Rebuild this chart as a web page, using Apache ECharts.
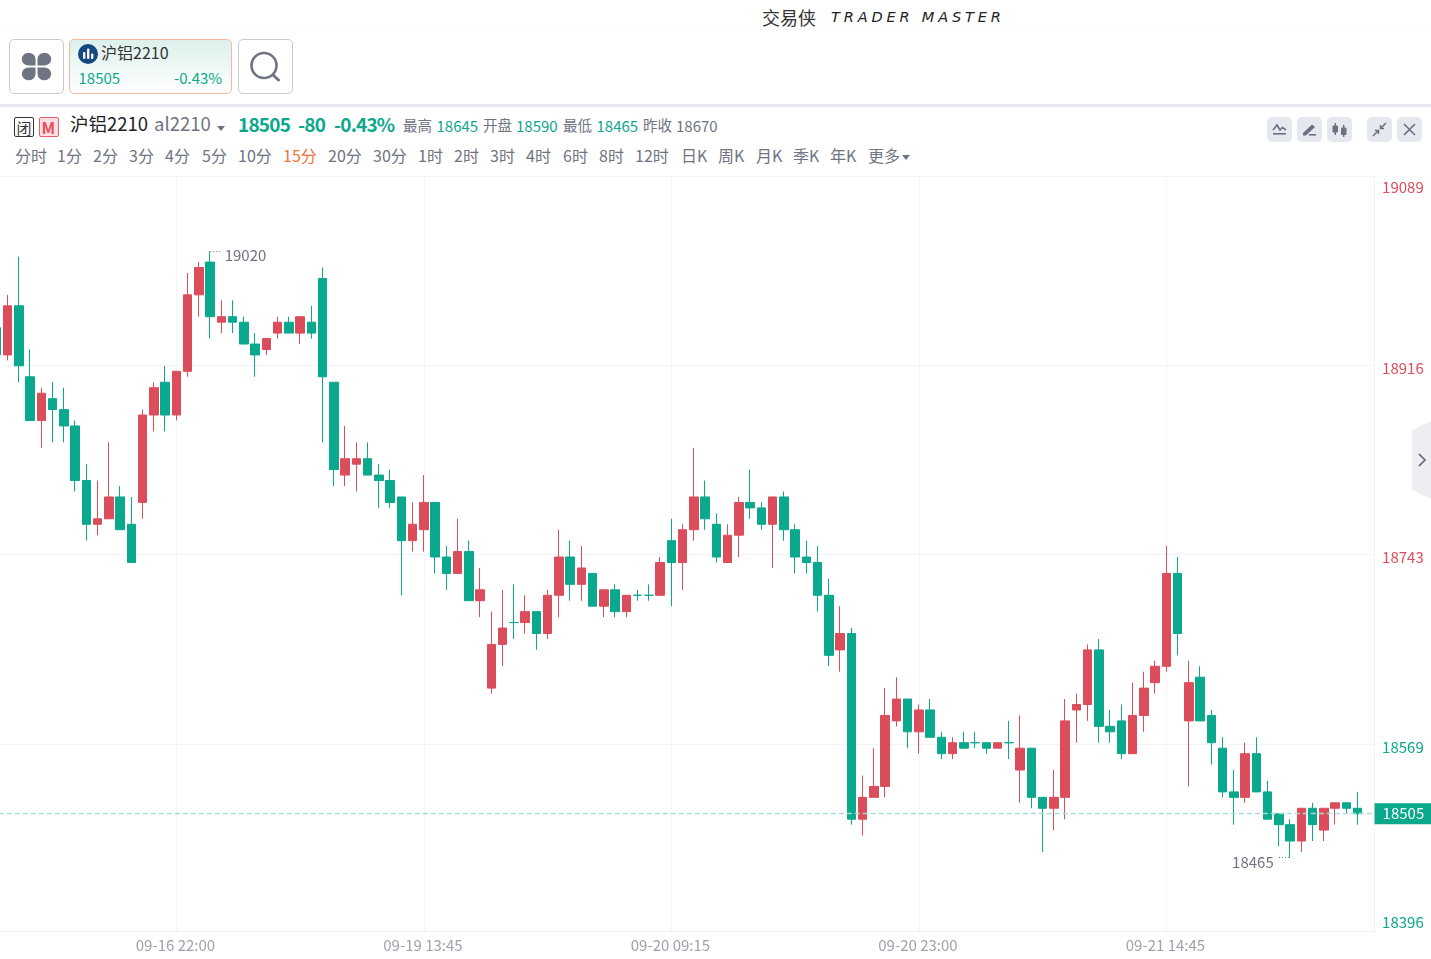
<!DOCTYPE html>
<html>
<head>
<meta charset="utf-8">
<title>沪铝2210</title>
<script src="https://cdn.jsdelivr.net/npm/echarts@6/dist/echarts.min.js"></script>
<style>
html, body { margin: 0; padding: 0; background: #fff; overflow: hidden; }
body { width: 1431px; height: 959px; position: relative; font-family: "Noto Sans CJK SC", sans-serif; }
.t { position: absolute; white-space: nowrap; line-height: 1; transform: translateY(-50%); }
.box { position: absolute; box-sizing: border-box; }
.btn { top: 39px; width: 55px; height: 55px; border: 1px solid #c9cad3; border-radius: 5px; }
.tool { top: 117px; width: 25px; height: 25px; background: #e6e8ef; border-radius: 5px; }
.tool svg { display: block; }
/* starts left of the page so the half candle on the edge gets cut off */
#kline { position: absolute; left: -20px; top: 170px; width: 1451px; height: 789px; }
</style>
</head>
<body>
<div class="box" style="left:0;top:29px;width:1431px;height:1px;background:#f8f8fa"></div>
<div class="box" style="left:0;top:104px;width:1431px;height:3px;background:#e6e8ef"></div>

<div class="box btn" style="left:9px">
	<svg width="53" height="53" viewBox="0 0 54 54"><g fill="#6f7482">
		<path d="M26 26 H19 A7 6.5 0 1 1 26 19 Z"/><path d="M28 26 H35 A7 6.5 0 1 0 28 19 Z"/>
		<path d="M26 28 H19 A7 6.5 0 1 0 26 35 Z"/><path d="M28 28 H35 A7 6.5 0 1 1 28 35 Z"/>
	</g></svg>
</div>
<div class="box" style="left:69px;top:39px;width:163px;height:55px;border:1px solid #f5b8a0;border-radius:5px;background:linear-gradient(#dcf1ec,#fff)">
	<svg width="22" height="22" viewBox="0 0 22 22" style="position:absolute;left:7px;top:3px"><circle cx="11" cy="11" r="10" fill="#14487f"/><g fill="#fff"><rect x="6" y="9" width="2.4" height="7" rx="1"/><rect x="10" y="5.5" width="2.4" height="10.5" rx="1"/><rect x="14" y="10.5" width="2.4" height="5.5" rx="1"/></g></svg>
</div>
<div class="box btn" style="left:238px">
	<svg width="53" height="53" viewBox="0 0 53 53"><circle cx="25" cy="25.5" r="12.5" fill="none" stroke="#6f7482" stroke-width="2.6"/><line x1="34" y1="35" x2="39.5" y2="40" stroke="#6f7482" stroke-width="3" stroke-linecap="round"/></svg>
</div>

<div class="box" style="left:14px;top:117px;width:20px;height:20px;border:1.5px solid #333;border-radius:2px"></div>
<div class="box" style="left:39px;top:117px;width:20px;height:20px;border:1px solid #e8606c;border-radius:2px;background:#fbdfe1"></div>
<div class="box" style="left:217px;top:126px;width:0;height:0;border:4.5px solid transparent;border-top:5px solid #6f7482"></div>
<div class="box" style="left:902px;top:155px;width:0;height:0;border:4.5px solid transparent;border-top:5px solid #6f7482"></div>

<div class="box tool" style="left:1267px"><svg width="25" height="25" viewBox="0 0 25 25"><path d="M6 13 L10 8 L13 13 L15.5 10.5 L19 13" fill="none" stroke="#6c7080" stroke-width="1.6"/><rect x="6" y="16" width="13" height="1.6" fill="#6c7080"/></svg></div>
<div class="box tool" style="left:1297px"><svg width="25" height="25" viewBox="0 0 25 25"><path d="M6 16 L15 7.5 L18 10 L9 18.5 H6 Z" fill="#6c7080"/><rect x="12" y="17" width="7" height="1.6" fill="#6c7080"/></svg></div>
<div class="box tool" style="left:1327px"><svg width="25" height="25" viewBox="0 0 25 25"><g fill="#6c7080"><rect x="7.6" y="6" width="1.4" height="12"/><rect x="5.5" y="8.5" width="5.5" height="7" rx="1"/><rect x="16" y="8" width="1.4" height="12"/><rect x="14" y="10.5" width="5.5" height="7.5" rx="1"/></g></svg></div>
<div class="box tool" style="left:1367px"><svg width="25" height="25" viewBox="0 0 25 25"><g fill="none" stroke="#6c7080" stroke-width="1.5"><path d="M6 19 L11 14 M8 13.5 H11.5 V17"/><path d="M19 6 L14 11 M13.5 8 V11.5 H17"/></g></svg></div>
<div class="box tool" style="left:1397px"><svg width="25" height="25" viewBox="0 0 25 25"><path d="M7 7 L18 18 M18 7 L7 18" stroke="#6c7080" stroke-width="1.6" fill="none"/></svg></div>

<div id="kline"></div>

<div class="box" style="left:1412px;top:421px;width:19px;height:78px;background:#eceef2;clip-path:polygon(100% 0,100% 100%,0 88%,0 12%)">
	<svg width="19" height="78" viewBox="0 0 19 78"><path d="M7 33 L13 39 L7 45" fill="none" stroke="#5f6370" stroke-width="1.6"/></svg>
</div>

<script>
	"use strict";

	var upColor = '#dc4d5c';
	var downColor = '#0aa88c';
	var greyText = '#6f7482';

	var opens = [18950, 18925, 18970, 18905, 18865, 18885, 18875, 18860, 18810, 18770, 18775, 18795, 18770, 18790, 18870, 18900, 18870, 18910, 18980, 19010,
		18955, 18960, 18955, 18935, 18930, 18945, 18955, 18945, 18955, 18995, 18900, 18815, 18825, 18830, 18815, 18810, 18795, 18755, 18765, 18790,
		18740, 18725, 18745, 18700, 18620, 18660, 18680, 18680, 18690, 18670, 18705, 18740, 18715, 18725, 18695, 18710, 18690, 18705, 18705, 18705,
		18755, 18735, 18765, 18795, 18770, 18735, 18760, 18790, 18785, 18770, 18795, 18765, 18740, 18735, 18705, 18655, 18670, 18500, 18520, 18530,
		18590, 18610, 18580, 18600, 18575, 18560, 18570, 18570, 18570, 18565, 18570, 18545, 18565, 18520, 18510, 18520, 18600, 18605, 18655, 18585,
		18590, 18560, 18595, 18625, 18640, 18725, 18590, 18630, 18595, 18565, 18525, 18520, 18560, 18525, 18505, 18495, 18480, 18510, 18490, 18510,
		18515, 18510];
	var closes = [18925, 18970, 18915, 18865, 18890, 18875, 18860, 18810, 18770, 18775, 18795, 18765, 18735, 18870, 18895, 18870, 18910, 18980, 19005, 18960,
		18960, 18955, 18935, 18925, 18940, 18955, 18945, 18960, 18945, 18905, 18820, 18830, 18830, 18815, 18810, 18790, 18755, 18770, 18790, 18740,
		18725, 18745, 18700, 18710, 18660, 18675, 18680, 18690, 18670, 18705, 18740, 18715, 18730, 18695, 18710, 18690, 18705, 18705, 18705, 18735,
		18735, 18765, 18795, 18775, 18740, 18760, 18790, 18785, 18770, 18795, 18765, 18740, 18735, 18705, 18650, 18670, 18500, 18520, 18530, 18595,
		18610, 18580, 18600, 18575, 18560, 18570, 18565, 18570, 18565, 18570, 18570, 18565, 18520, 18510, 18520, 18590, 18605, 18655, 18585, 18580,
		18560, 18595, 18620, 18640, 18725, 18670, 18625, 18590, 18570, 18525, 18520, 18560, 18525, 18500, 18495, 18480, 18510, 18495, 18510, 18515,
		18510, 18505];
	var lows = [18920, 18920, 18900, 18865, 18840, 18845, 18845, 18800, 18755, 18760, 18775, 18765, 18735, 18775, 18855, 18855, 18865, 18905, 18960, 18940,
		18945, 18945, 18935, 18905, 18925, 18940, 18945, 18935, 18940, 18845, 18805, 18805, 18800, 18815, 18785, 18785, 18705, 18745, 18745, 18725,
		18710, 18725, 18700, 18685, 18615, 18640, 18665, 18670, 18655, 18665, 18685, 18700, 18700, 18695, 18685, 18685, 18685, 18700, 18700, 18705,
		18695, 18710, 18755, 18765, 18735, 18735, 18740, 18775, 18765, 18730, 18755, 18725, 18725, 18690, 18640, 18635, 18495, 18485, 18520, 18520,
		18585, 18565, 18560, 18575, 18555, 18555, 18565, 18565, 18560, 18565, 18555, 18515, 18510, 18470, 18490, 18500, 18570, 18590, 18570, 18570,
		18555, 18560, 18580, 18615, 18635, 18650, 18530, 18590, 18550, 18520, 18495, 18515, 18525, 18500, 18475, 18465, 18470, 18480, 18480, 18495,
		18505, 18495];
	var highs = [18955, 18980, 19015, 18930, 18895, 18900, 18895, 18865, 18825, 18810, 18845, 18805, 18795, 18875, 18900, 18915, 18910, 19000, 19010, 19020,
		18975, 18975, 18960, 18945, 18940, 18960, 18960, 18960, 18970, 19005, 18900, 18860, 18845, 18845, 18825, 18820, 18795, 18790, 18815, 18790,
		18750, 18775, 18755, 18730, 18690, 18710, 18715, 18705, 18690, 18710, 18765, 18755, 18750, 18725, 18710, 18715, 18705, 18710, 18715, 18740,
		18775, 18770, 18840, 18810, 18780, 18770, 18795, 18820, 18790, 18795, 18800, 18770, 18755, 18750, 18720, 18695, 18675, 18540, 18565, 18620,
		18630, 18610, 18605, 18610, 18580, 18575, 18580, 18580, 18570, 18570, 18590, 18595, 18565, 18520, 18545, 18610, 18615, 18660, 18665, 18600,
		18605, 18625, 18635, 18645, 18750, 18740, 18645, 18640, 18600, 18575, 18545, 18570, 18575, 18535, 18505, 18500, 18510, 18515, 18510, 18515,
		18515, 18525];

	// only these candles carry a time label, everything else stays blank
	var timeIndexes = [16, 38, 60, 82, 104];
	var timeLabels = ['09-16 22:00', '09-19 13:45', '09-20 09:15', '09-20 23:00', '09-21 14:45'];
	var priceTicks = [18396, 18569, 18743, 18916, 19089];
	var prevClose = 18670;
	var lastPrice = 18505;
	var dayHigh = [19, 19020];
	var dayLow = [115, 18465];

	var categories = opens.map(function (v, i) {
		var k = timeIndexes.indexOf(i);
		return k >= 0 ? timeLabels[k] : '';
	});
	categories.push('');   // one empty band before the price axis

	var candles = opens.map(function (v, i) {
		return [opens[i], closes[i], lows[i], highs[i]];
	});

	function priceLabel(v) {
		var tone = v > prevClose ? 'up' : 'down';
		var place = v === priceTicks[4] ? 'Top' : (v === priceTicks[0] ? 'Bottom' : 'Mid');
		return '{' + tone + place + '|' + v + '}';
	}

	function richStyle(color, padding) {
		return { color: color, fontSize: 15, fontFamily: 'Noto Sans CJK SC', padding: padding };
	}

	function extremePoint(coord, position, distance) {
		return {
			coord: coord,
			value: coord[1],
			label: { position: position, distance: distance, offset: [0, 4.5] }
		};
	}

	var hasLabel = function (i, name) { return name !== ''; };

	var option = {
		animation: false,
		textStyle: { fontFamily: 'Noto Sans CJK SC' },
		grid: { left: 10.825, top: 5.8, width: 1383.75, height: 757 },
		xAxis: {
			type: 'category',
			data: categories,
			boundaryGap: true,
			offset: -2,
			axisLine: { lineStyle: { color: '#f0f1f5' } },
			axisTick: { show: false },
			axisLabel: { interval: hasLabel, color: '#9ea2ad', fontSize: 15, margin: 7, padding: [0, 2, 0, 0] },
			splitLine: { show: true, interval: hasLabel, alignWithLabel: true, lineStyle: { color: '#f3f4f7' } }
		},
		yAxis: {
			type: 'value',
			position: 'right',
			min: priceTicks[0],
			max: priceTicks[4],
			axisLine: { show: true, lineStyle: { color: '#f0f1f5' } },
			axisTick: { show: false, customValues: priceTicks },
			axisLabel: {
				customValues: priceTicks,
				margin: 7.5,
				formatter: priceLabel,
				rich: {
					upTop: richStyle(upColor, [23, 0, 0, 0]),
					upMid: richStyle(upColor, [7, 0, 0, 0]),
					downMid: richStyle(downColor, [7, 0, 0, 0]),
					downBottom: richStyle(downColor, [0, 0, 21, 0])
				}
			},
			splitLine: { show: true, showMinLine: false, lineStyle: { color: '#f3f4f7' } }
		},
		series: [{
			type: 'candlestick',
			data: candles,
			barWidth: 9,
			itemStyle: {
				color: upColor,
				color0: downColor,
				borderColor: upColor,
				borderColor0: downColor,
				borderColorDoji: downColor,
				borderWidth: 1
			},
			markLine: {
				silent: true,
				symbol: 'none',
				animation: false,
				data: [
					{
						yAxis: lastPrice,
						lineStyle: { color: '#a5dfd3', type: [5, 3], width: 1.4 },
						label: {
							show: true,
							position: 'end',
							distance: 0,
							formatter: String(lastPrice),
							color: '#fff',
							fontSize: 15,
							backgroundColor: downColor,
							padding: [3, 8, 3, 8]
						}
					},
					[
						{ coord: dayHigh, lineStyle: { color: '#6f7482', type: [1, 2], width: 1 }, label: { show: false } },
						{ coord: [dayHigh[0] + 1, dayHigh[1]] }
					],
					[
						{ coord: [dayLow[0] - 1, dayLow[1]], lineStyle: { color: '#6f7482', type: [1, 2], width: 1 }, label: { show: false } },
						{ coord: dayLow }
					]
				]
			},
			markPoint: {
				silent: true,
				symbol: 'circle',
				symbolSize: 1,
				itemStyle: { color: 'transparent' },
				label: { show: true, color: greyText, fontSize: 15, formatter: '{c}' },
				data: [
					extremePoint(dayHigh, 'right', 14),
					extremePoint(dayLow, 'left', 16)
				]
			}
		}]
	};

	var chart = echarts.init(document.getElementById('kline'));
	chart.setOption(option);

	// header texts, y is the text's middle line
	function put(text, x, y, size, color, extra) {
		var el = document.createElement('span');
		el.className = 't';
		el.textContent = text;
		el.style.cssText = 'left:' + x + 'px;top:' + y + 'px;font-size:' + size + 'px;color:' + color + ';' + (extra || '');
		document.body.appendChild(el);
	}

	var tabNames = ['分时', '1分', '2分', '3分', '4分', '5分', '10分', '15分', '20分', '30分', '1时', '2时', '3时', '4时', '6时', '8时', '12时', '日K', '周K', '月K', '季K', '年K', '更多'];
	var tabLefts = [15, 57, 93, 129, 165, 202, 238, 283, 328, 373, 418, 454, 490, 526, 563, 599, 635, 681, 718, 756, 793, 830, 868];
	tabNames.forEach(function (name, i) {
		put(name, tabLefts[i], 155, 16, name === '15分' ? '#f4703f' : greyText);
	});

	put('交易侠', 762, 17, 18, '#333');
	put('TRADER MASTER', 831, 17, 14.5, '#222', 'font-family:"DejaVu Sans";font-style:italic;letter-spacing:3.85px;');
	put('沪铝2210', 101, 52, 16, '#333');
	put('18505', 78.5, 76.5, 15, downColor);
	put('-0.43%', 174, 76.5, 15, downColor);
	put('闭', 16.5, 127, 15, '#333');
	put('M', 41.5, 127, 16, '#e4505e', 'font-weight:700;');
	put('沪铝2210', 70, 123, 18.5, '#222');
	put('al2210', 154, 123, 18.5, greyText);
	put('18505', 238, 123, 19, downColor, 'font-weight:700;letter-spacing:-0.8px;');
	put('-80', 298, 123, 19, downColor, 'font-weight:700;letter-spacing:-0.8px;');
	put('-0.43%', 334, 123, 19, downColor, 'font-weight:700;letter-spacing:-0.8px;');
	put('最高', 403, 125, 14.5, greyText);
	put('18645', 436.5, 125, 15, downColor);
	put('开盘', 483, 125, 14.5, greyText);
	put('18590', 516, 125, 15, downColor);
	put('最低', 563, 125, 14.5, greyText);
	put('18465', 596.5, 125, 15, downColor);
	put('昨收', 643, 125, 14.5, greyText);
	put('18670', 676, 125, 15, greyText);
</script>
</body>
</html>
